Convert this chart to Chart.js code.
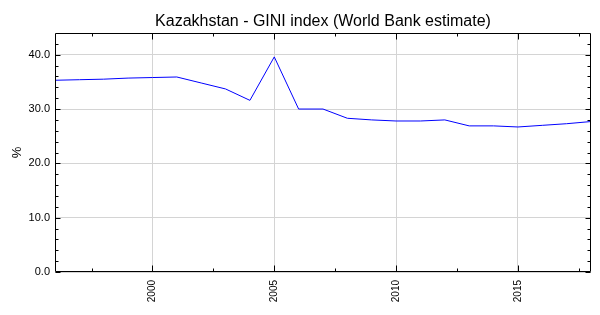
<!DOCTYPE html>
<html>
<head>
<meta charset="utf-8">
<script src="https://cdn.jsdelivr.net/npm/chart.js@4"></script>
<style>
  html, body { margin: 0; padding: 0; background: #fff; }
  #wrap { width: 600px; height: 315px; }
</style>
</head>
<body>
<div id="wrap"><canvas id="chart"></canvas></div>
<script>
// chart data
const chartTitle = 'Kazakhstan - GINI index (World Bank estimate)';
const yLabel = '%';
const years = [1996, 1997, 1998, 1999, 2000, 2001, 2002, 2003, 2004, 2005, 2006, 2007,
               2008, 2009, 2010, 2011, 2012, 2013, 2014, 2015, 2016, 2017, 2018];
const gini = [35.3, 35.4, 35.5, 35.7, 35.8, 35.9, 34.8, 33.7, 31.6, 39.6, 30.0, 30.0,
              28.3, 28.0, 27.8, 27.8, 28.0, 26.9, 26.9, 26.7, 27.0, 27.3, 27.7];
const xTicks = [2000, 2005, 2010, 2015];
const yTicks = [0, 10, 20, 30, 40];
const xMinor = [1997.5, 2002.5, 2007.5, 2012.5, 2017.5];
const yMinor = [2, 4, 6, 8, 12, 14, 16, 18, 22, 24, 26, 28, 32, 34, 36, 38, 42];

const FONT = '"Liberation Sans", Arial, sans-serif';

// frame, inward tick marks and title centred over the plot
const framePlugin = {
  id: 'frame',
  afterDraw(chart) {
    const ctx = chart.ctx;
    const a = chart.chartArea;
    const xs = chart.scales.x, ys = chart.scales.y;
    const L = Math.round(a.left) + 0.5, R = Math.round(a.right) - 0.5;
    const T = Math.round(a.top) + 0.5, B = Math.round(a.bottom) - 0.5;
    ctx.save();
    ctx.strokeStyle = '#000';
    ctx.lineWidth = 1;
    ctx.beginPath();
    ctx.rect(L, T, R - L, B - T);
    const tick = (v, len, axis) => {
      if (axis === 'x') {
        const px = Math.round(xs.getPixelForValue(v)) + 0.5;
        ctx.moveTo(px, B); ctx.lineTo(px, B - len);
        ctx.moveTo(px, T); ctx.lineTo(px, T + len);
      } else {
        const py = Math.round(ys.getPixelForValue(v)) + 0.5;
        ctx.moveTo(L, py); ctx.lineTo(L + len, py);
        ctx.moveTo(R, py); ctx.lineTo(R - len, py);
      }
    };
    xTicks.forEach(v => tick(v, 6, 'x'));
    xMinor.forEach(v => tick(v, 3, 'x'));
    yTicks.forEach(v => tick(v, 5, 'y'));
    yMinor.forEach(v => tick(v, 3, 'y'));
    ctx.stroke();

    ctx.fillStyle = '#000';
    ctx.font = '16px ' + FONT;
    ctx.textAlign = 'center';
    ctx.textBaseline = 'alphabetic';
    ctx.fillText(chartTitle, (a.left + a.right) / 2, 26);
    ctx.restore();
  }
};

new Chart(document.getElementById('chart'), {
  type: 'line',
  data: {
    datasets: [{
      data: years.map((y, i) => ({ x: y, y: gini[i] })),
      borderColor: '#0000ff',
      borderWidth: 1,
      pointRadius: 0,
      tension: 0,
      fill: false
    }]
  },
  options: {
    responsive: true,
    maintainAspectRatio: false,
    animation: false,
    layout: { padding: { top: 33, right: 9, left: 0, bottom: 0 } },
    plugins: {
      legend: { display: false },
      title: { display: false },
      tooltip: { enabled: false }
    },
    scales: {
      x: {
        type: 'linear',
        min: 1996,
        max: 2018,
        afterBuildTicks: s => { s.ticks = xTicks.map(v => ({ value: v })); },
        afterFit: s => { s.height = 43; },
        border: { display: false },
        grid: { color: '#d4d4d4', drawTicks: false },
        ticks: {
          minRotation: 90,
          maxRotation: 90,
          padding: 8,
          color: '#000',
          font: { family: FONT, size: 10 },
          callback: v => String(v)
        }
      },
      y: {
        min: 0,
        max: 44,
        afterBuildTicks: s => { s.ticks = yTicks.map(v => ({ value: v })); },
        afterFit: s => { s.width = 55; },
        border: { display: false },
        grid: { color: '#d4d4d4', drawTicks: false },
        title: {
          display: true,
          text: yLabel,
          color: '#000',
          font: { family: FONT, size: 13 },
          padding: { top: 10, bottom: 0 }
        },
        ticks: {
          padding: 5,
          color: '#000',
          font: { family: FONT, size: 11 },
          callback: v => v.toFixed(1)
        }
      }
    }
  },
  plugins: [framePlugin]
});
</script>
</body>
</html>
